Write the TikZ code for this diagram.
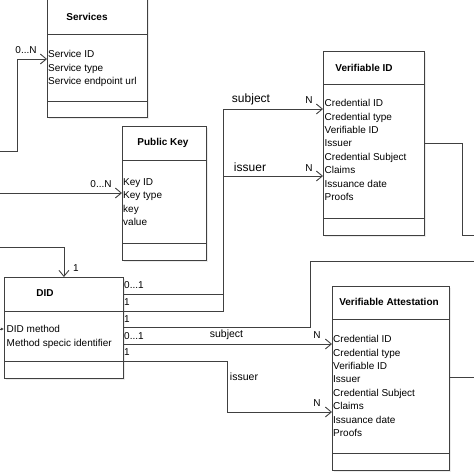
\documentclass[tikz,border=0pt]{standalone}
\usepackage{fontspec}
\setmainfont{Liberation Sans}
\usetikzlibrary{arrows.meta,shadows}

\tikzset{
  classbox/.style={draw=black!75, line width=0.9pt, fill=white, anchor=north west, inner sep=0pt,
    drop shadow={shadow xshift=1.5pt, shadow yshift=-1.5pt, fill=black!15}},
  classtitle/.style={font=\fontsize{10}{12}\selectfont\bfseries, inner sep=0pt},
  attrs/.style={font=\fontsize{10}{13.4}\selectfont, align=left, anchor=north west, inner sep=0pt},
  mult/.style={font=\fontsize{10}{12}\selectfont, inner sep=0pt},
  role/.style={font=\fontsize{12}{14}\selectfont, inner sep=0pt},
  smallrole/.style={font=\fontsize{10.5}{12}\selectfont, inner sep=0pt},
  assoc/.style={draw=black!75, line width=0.9pt},
  nav/.style={assoc, -{Straight Barb[length=6pt,width=10pt,line width=0.9pt]}},
}

\begin{document}
\begin{tikzpicture}[x=1pt,y=-1pt]
    \useasboundingbox (0,0) rectangle (474,474);
    \clip (0,0) rectangle (474,474);

    % classes
    \node[classbox, minimum width=100pt, minimum height=127pt] (svc) at (47,-10) {};
    \node[classbox, minimum width=84pt, minimum height=134pt] (pk) at (122,126) {};
    \node[classbox, minimum width=101pt, minimum height=184pt] (vid) at (323,51) {};
    \node[classbox, minimum width=119pt, minimum height=101pt] (did) at (4,277) {};
    \node[classbox, minimum width=117pt, minimum height=184pt] (va) at (332,286) {};

    \draw[assoc] ([yshift=-44pt]svc.north west) -- ([yshift=-44pt]svc.north east);
    \draw[assoc] ([yshift=-111pt]svc.north west) -- ([yshift=-111pt]svc.north east);
    \draw[assoc] ([yshift=-34pt]pk.north west) -- ([yshift=-34pt]pk.north east);
    \draw[assoc] ([yshift=-117pt]pk.north west) -- ([yshift=-117pt]pk.north east);
    \draw[assoc] ([yshift=-33pt]vid.north west) -- ([yshift=-33pt]vid.north east);
    \draw[assoc] ([yshift=-167pt]vid.north west) -- ([yshift=-167pt]vid.north east);
    \draw[assoc] ([yshift=-34pt]did.north west) -- ([yshift=-34pt]did.north east);
    \draw[assoc] ([yshift=-84pt]did.north west) -- ([yshift=-84pt]did.north east);
    \draw[assoc] ([yshift=-33pt]va.north west) -- ([yshift=-33pt]va.north east);
    \draw[assoc] ([yshift=-167pt]va.north west) -- ([yshift=-167pt]va.north east);

    \node[classtitle] (svctitle) at (87,17) {Services};
    \node[classtitle] (pktitle) at (163,143) {Public Key};
    \node[classtitle] (vidtitle) at (364,68) {Verifiable ID};
    \node[classtitle] (didtitle) at (45,293) {DID};
    \node[classtitle] (vatitle) at (389,302) {Verifiable Attestation};

    \node[attrs] (svcattr) at (48,50.2) {Service ID\\Service type\\Service endpoint url};
    \node[attrs] (pkattr) at (123,178.2) {Key ID\\Key type\\key\\value};
    \node[attrs] (vidattr) at (324.5,99.2) {Credential ID\\Credential type\\Verifiable ID\\Issuer\\Credential Subject\\Claims\\Issuance date\\Proofs};
    \node[attrs] (didattr) at (6.5,325.2) {DID method\\Method specic identifier};
    \node[attrs] (vaattr) at (333,335.2) {Credential ID\\Credential type\\Verifiable ID\\Issuer\\Credential Subject\\Claims\\Issuance date\\Proofs};

    % ports
    \coordinate (svcin) at (0,151);
    \coordinate (pkin) at (0,193);
    \coordinate (didin) at (0,247);
    \coordinate (didleft) at (0,329);
    \coordinate (outa) at (474,261);
    \coordinate (outb) at (474,235);
    \coordinate (outc) at (474,377);
    \coordinate (svc-a) at ([yshift=-69pt]svc.north west);
    \coordinate (pk-a) at ([yshift=-67pt]pk.north west);
    \coordinate (did-w) at ([yshift=-52pt]did.north west);
    \coordinate (did-a) at ([yshift=-17pt]did.north east);
    \coordinate (did-b) at ([yshift=-34pt]did.north east);
    \coordinate (did-c) at ([yshift=-50pt]did.north east);
    \coordinate (did-d) at ([yshift=-67pt]did.north east);
    \coordinate (did-e) at ([yshift=-84pt]did.north east);
    \coordinate (vid-a) at ([yshift=-58pt]vid.north west);
    \coordinate (vid-b) at ([yshift=-125pt]vid.north west);
    \coordinate (vid-c) at ([yshift=-92pt]vid.north east);
    \coordinate (va-a) at ([yshift=-58pt]va.north west);
    \coordinate (va-b) at ([yshift=-126pt]va.north west);
    \coordinate (va-c) at ([yshift=-91pt]va.north east);

    % associations
    \draw[nav] (svcin) -| ([xshift=-30pt]svc-a) -- (svc-a);
    \draw[nav] (pkin) -- (pk-a);
    \draw[nav] (didin) -| (did.north);
    \draw[assoc, -{Latex[length=3pt,width=3pt]}] (didleft) -- (did-w);
    \draw[nav] (did-a) -| ([xshift=-100pt]vid-a) -- (vid-a);
    \draw[nav] (did-b) -| ([xshift=-100pt]vid-b) -- (vid-b);
    \draw[assoc] (did-c) -| ([xshift=-164pt]outa) -- (outa);
    \draw[nav] (did-d) -- (va-a);
    \draw[nav] (did-e) -| ([xshift=-105pt]va-b) -- (va-b);
    \draw[assoc] (vid-c) -| ([xshift=-12pt]outb) -- (outb);
    \draw[assoc] (va-c) -- (outc);

    % labels
    \node[mult] (m1) at (26,50) {0...N};
    \node[mult] (m2) at (101,184) {0...N};
    \node[mult] (m3) at (76,268) {1};
    \node[mult, anchor=west] (m4) at (124,285) {0...1};
    \node[mult, anchor=west] (m5) at (124,302) {1};
    \node[mult, anchor=west] (m6) at (124,319) {1};
    \node[mult, anchor=west] (m7) at (124,336) {0...1};
    \node[mult, anchor=west] (m8) at (124,352) {1};
    \node[mult] (n1) at (309,100) {N};
    \node[mult] (n2) at (309,168) {N};
    \node[mult] (n3) at (317,335) {N};
    \node[mult] (n4) at (317,403) {N};

    \node[role] (r1) at (251,99) {subject};
    \node[role] (r2) at (250,167) {issuer};
    \node[smallrole] (r3) at (226.5,335) {subject};
    \node[smallrole] (r4) at (244,377) {issuer};

\end{tikzpicture}
\end{document}
